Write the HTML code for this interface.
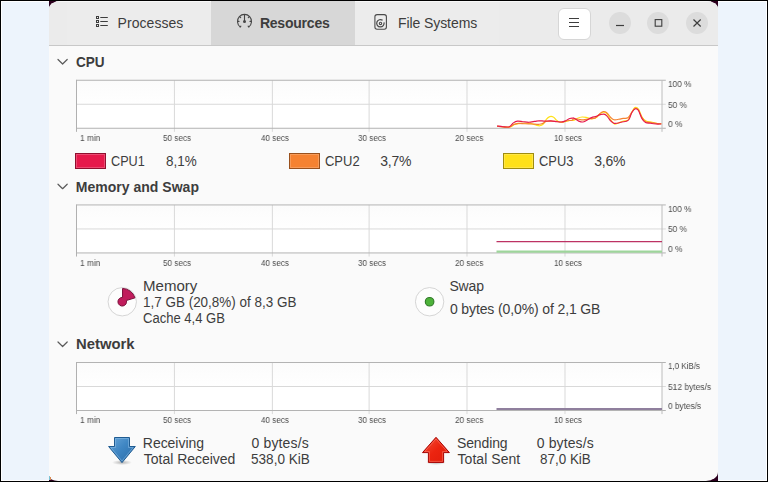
<!DOCTYPE html>
<html lang="en"><head><meta charset="utf-8"><title>System Monitor</title>
<style>
html,body{margin:0;padding:0;}
body{width:768px;height:482px;overflow:hidden;background:#edf4fc;font-family:"Liberation Sans",sans-serif;color:#3d3d3d;}
#root{position:relative;width:768px;height:482px;overflow:hidden;background:#edf4fc;}
#inner{position:absolute;left:1px;top:1px;width:764px;height:478px;border:1px solid #fff;}
#frame{position:absolute;left:0;top:0;width:766px;height:480px;border:1px solid #000;pointer-events:none;}
#corner{position:absolute;left:49px;top:1px;width:669px;height:480px;background:#2c001e;}
#win{position:absolute;left:49px;top:1px;width:669px;height:480px;background:#fafafa;border-radius:12px 12px 12px 9px / 8px 8px 9px 5px;overflow:hidden;}
#hdr{position:absolute;left:0;top:0;width:669px;height:44px;background:#ebebeb;border-bottom:1px solid #c8c8c8;box-shadow:inset 0 1px 0 #f8f8f8;}
#tabs{position:absolute;left:18px;top:1px;width:432px;height:43px;background:#ececec;}
#tabsel{position:absolute;left:162px;top:0;width:144px;height:44px;background:#d7d7d7;}
#menu{position:absolute;left:508.5px;top:7px;width:33px;height:31.5px;background:#fff;border:1px solid #d6d6d6;border-radius:6px;box-sizing:border-box;}
.wb{position:absolute;top:11px;width:22px;height:22px;border-radius:50%;background:#dcdcdc;}
.t{position:absolute;white-space:pre;line-height:1em;color:#3d3d3d;transform-origin:0 50%;}
svg{position:absolute;overflow:visible;}
svg.g{position:absolute;}
.sw{position:absolute;top:153px;width:31px;height:16px;box-sizing:border-box;}

</style></head>
<body>
<div id="root">
<div id="inner"></div>
<div id="corner"></div>
<div id="win">
  <div id="hdr">
    <div id="tabs"></div>
    <div id="tabsel"></div>
    <div id="menu"></div>
    <div class="wb" style="left:560px"></div>
    <div class="wb" style="left:598px"></div>
    <div class="wb" style="left:637px"></div>
  </div>
</div>
<div style="position:absolute;left:49px;top:476px;width:1px;height:4px;background:#7cc4d6"></div><div style="position:absolute;left:50px;top:477px;width:1px;height:3px;background:#d98a52"></div>
<!-- icons (page coordinates) -->
<svg id="icons" style="left:0;top:0" width="768" height="482" viewBox="0 0 768 482">
  <!-- processes icon -->
  <g fill="none" stroke="#3d3d3d" stroke-width="1">
    <rect x="96.5" y="16.5" width="2" height="2"/><rect x="96.5" y="20.5" width="2" height="2"/><rect x="96.5" y="24.5" width="2" height="2"/>
    <path d="M100.3 17.5H107.8M100.3 21.5H107.8M100.3 25.5H107.8"/>
  </g>
  <!-- menu hamburger -->
  <path d="M569 18.5H579M569 22.5H579M569 26.5H579" stroke="#3d3d3d" stroke-width="1.2" fill="none"/>
  <!-- window buttons -->
  <path d="M616 25.5H624" stroke="#3d3d3d" stroke-width="1.2" fill="none"/>
  <rect x="655.2" y="19.6" width="6.6" height="6.6" stroke="#3d3d3d" stroke-width="1.1" fill="none"/>
  <path d="M693.5 19.5L700.7 26.5M700.7 19.5L693.5 26.5" stroke="#3d3d3d" stroke-width="1.2" fill="none"/>
  <!-- chevrons -->
  <g fill="none" stroke="#5a5a5a" stroke-width="1.2" stroke-linecap="round" stroke-linejoin="round">
    <path d="M58 59.5L62.6 64L67.2 59.5"/>
    <path d="M58 184.2L62.6 188.7L67.2 184.2"/>
    <path d="M58 342L62.6 346.5L67.2 342"/>
  </g>
</svg>
<div class="sw" style="left:75px;background:#e6194b;border:1px solid #8f0f2e;box-shadow:inset 0 0 0 1px #ec4a72"></div>
<div class="sw" style="left:289px;background:#f58231;border:1px solid #99501c;box-shadow:inset 0 0 0 1px #f79b59"></div>
<div class="sw" style="left:503px;background:#ffe119;border:1px solid #9f8c0f;box-shadow:inset 0 0 0 1px #ffe748"></div>

<svg id="icons2" style="left:0;top:0" width="768" height="482" viewBox="0 0 768 482">
  <defs>
    <linearGradient id="gdn" x1="0" y1="0" x2="1" y2="1"><stop offset="0" stop-color="#6aa7da"/><stop offset="0.45" stop-color="#3f86c3"/><stop offset="1" stop-color="#2a6aa6"/></linearGradient>
    <linearGradient id="gup" x1="0" y1="0" x2="1" y2="1"><stop offset="0" stop-color="#f4523b"/><stop offset="0.5" stop-color="#ec2410"/><stop offset="1" stop-color="#e01b0a"/></linearGradient>
    <radialGradient id="gsh"><stop offset="0" stop-color="#000" stop-opacity="0.28"/><stop offset="1" stop-color="#000" stop-opacity="0"/></radialGradient>
  </defs>
  <!-- resources icon -->
  <g fill="none" stroke="#454545" stroke-width="1.1" stroke-linecap="round">
    <path d="M240.2,26.9A7,7 0 1 1 248.8,26.9"/>
    <path d="M244.5,21.4V14.9"/>
    <path d="M237.8,21.4H239M250,21.4H251.2M239.9,16.8L240.7,17.6M249.1,16.8L248.3,17.6M240.1,26.9L240.9,26.1M248.9,26.9L248.1,26.1"/>
  </g>
  <circle cx="244.5" cy="21.5" r="1.5" fill="#454545"/>
  <!-- file systems icon -->
  <g fill="none" stroke="#4a4a4a" stroke-width="1.1">
    <rect x="374.9" y="14.6" width="11.5" height="14.7" rx="2.2"/>
    <path d="M382.6,20.3A3.7,3.7 0 1 0 384,22.4" stroke-width="1.25"/>
    <circle cx="380.5" cy="23.4" r="1.2"/>
  </g>
  <!-- memory pie -->
  <circle cx="122.25" cy="301.75" r="14.2" fill="#fdfdfd" stroke="#d0d0d0" stroke-width="0.9"/>
  <path d="M122.55,297.45L122.55,288.45A13.3,13.3 0 0 1 134.97,297.86L126.36,300.49A4.3,4.3 0 1 1 122.55,297.45Z" fill="#c01c5c" stroke="#7a0f3a" stroke-width="1" stroke-linejoin="round"/>
  <!-- swap -->
  <circle cx="429.6" cy="301.75" r="14.2" fill="#fdfdfd" stroke="#d0d0d0" stroke-width="0.9"/>
  <circle cx="429.6" cy="301.75" r="4.3" fill="#4db23a" stroke="#2f7a26" stroke-width="1.1"/>
  <!-- down arrow -->
  <ellipse cx="122" cy="462.5" rx="10" ry="2.6" fill="url(#gsh)"/>
  <path d="M114.5,437.5H129.5V446.5H135.3L122,462.6L108.6,446.5H114.5Z" fill="url(#gdn)" stroke="#1f5b91" stroke-width="1" stroke-linejoin="round"/>
  <path d="M115.5,438.5H128.5V447.5H133.2L122,461L110.8,447.5H115.5Z" fill="none" stroke="#8bbce6" stroke-opacity="0.55" stroke-width="1" stroke-linejoin="round"/>
  <!-- up arrow -->
  <ellipse cx="436" cy="462.5" rx="10" ry="2.6" fill="url(#gsh)"/>
  <path d="M436,437.3L449.4,452.6H443.6V462.4H428.4V452.6H422.5Z" fill="url(#gup)" stroke="#a40000" stroke-width="1" stroke-linejoin="round"/>
  <path d="M436,438.9L447.2,451.6H442.6V461.4H429.4V451.6H424.7Z" fill="none" stroke="#ff8a78" stroke-opacity="0.5" stroke-width="1" stroke-linejoin="round"/>
</svg>

<svg class="g" style="left:70px;top:74px" width="600" height="66" viewBox="0 0 600 66">
<defs><linearGradient id="gb0" x1="0" y1="0" x2="0" y2="1"><stop offset="0" stop-color="#fbfbfb"/><stop offset="0.55" stop-color="#ffffff"/></linearGradient></defs>
<rect x="6.50" y="6.25" width="585.50" height="48.0" fill="url(#gb0)"/>
<line x1="104.42" y1="6.25" x2="104.42" y2="57.85" stroke="#d9d9d9" stroke-width="1"/>
<line x1="202.36" y1="6.25" x2="202.36" y2="57.85" stroke="#d9d9d9" stroke-width="1"/>
<line x1="299.10" y1="6.25" x2="299.10" y2="57.85" stroke="#d9d9d9" stroke-width="1"/>
<line x1="397.00" y1="6.25" x2="397.00" y2="57.85" stroke="#d9d9d9" stroke-width="1"/>
<line x1="495.00" y1="6.25" x2="495.00" y2="57.85" stroke="#d9d9d9" stroke-width="1"/>
<line x1="6.50" y1="30.25" x2="595.80" y2="30.25" stroke="#d9d9d9" stroke-width="1"/>
<line x1="6.50" y1="6.25" x2="595.80" y2="6.25" stroke="#b3b3b3" stroke-width="1"/>
<line x1="6.50" y1="54.25" x2="595.80" y2="54.25" stroke="#b3b3b3" stroke-width="1"/>
<line x1="592.00" y1="6.25" x2="592.00" y2="57.85" stroke="#bcbcbc" stroke-width="1"/>
<line x1="6.50" y1="5.75" x2="6.50" y2="57.85" stroke="#b0b0b0" stroke-width="1"/>
<g transform="translate(-70,-74)"><path d="M497.0,126.3C499.2,126.4 507.0,127.3 509.9,127.0C512.9,126.6 512.9,125.0 514.6,124.4C516.4,123.8 517.9,123.6 520.5,123.4C523.0,123.3 527.3,123.2 529.8,123.4C532.4,123.7 534.0,124.6 535.7,125.0C537.4,125.4 538.5,125.9 539.8,125.8C541.1,125.6 542.2,125.1 543.3,124.0C544.4,123.0 545.2,120.6 546.3,119.3C547.3,118.1 548.6,117.0 549.8,116.6C550.9,116.3 552.2,116.4 553.3,117.0C554.4,117.5 555.0,119.0 556.2,119.9C557.4,120.8 558.9,122.0 560.3,122.3C561.8,122.6 563.4,122.0 565.0,121.7C566.6,121.4 568.2,120.8 569.7,120.5C571.2,120.3 572.7,120.5 574.0,120.2C575.3,119.8 576.1,118.7 577.5,118.2C578.9,117.6 580.6,117.1 582.2,117.0C583.8,116.9 585.3,117.3 586.9,117.6C588.5,117.9 590.0,118.8 591.6,118.8C593.1,118.8 594.9,118.4 596.3,117.6C597.6,116.8 598.6,114.9 599.8,114.1C601.0,113.2 602.1,112.4 603.3,112.3C604.5,112.2 605.6,112.3 606.8,113.5C608.0,114.6 609.1,117.6 610.3,119.3C611.6,121.1 613.1,123.4 614.4,124.0C615.8,124.6 617.1,123.3 618.5,122.9C620.0,122.4 621.7,121.5 623.2,121.1C624.8,120.6 626.5,121.5 627.9,120.2C629.3,118.8 630.3,115.0 631.4,112.9C632.6,110.8 633.8,108.2 634.9,107.6C636.1,107.0 637.3,107.6 638.5,109.1C639.6,110.7 640.7,115.0 642.0,117.0C643.2,119.0 644.5,120.3 646.1,121.1C647.6,121.9 649.7,121.7 651.3,122.0C653.0,122.4 654.4,122.9 656.0,123.2C657.7,123.5 660.4,123.7 661.3,123.8" fill="none" stroke="#ffe119" stroke-width="1.15" stroke-linejoin="round"/>
<path d="M497.0,126.3C499.0,126.4 506.0,127.5 508.8,127.2C511.5,126.9 511.9,125.2 513.4,124.6C515.0,124.0 516.2,123.6 518.1,123.4C520.1,123.3 522.8,123.7 525.2,123.8C527.5,123.9 529.8,123.9 532.2,124.0C534.5,124.1 537.5,124.4 539.2,124.3C541.0,124.2 541.6,123.9 542.7,123.4C543.9,123.0 544.9,121.8 546.3,121.4C547.6,121.1 549.2,121.1 550.9,121.1C552.7,121.1 555.0,121.3 556.8,121.4C558.6,121.6 559.9,122.1 561.5,122.0C563.0,121.9 564.4,121.2 566.2,120.9C567.9,120.5 570.7,120.5 572.0,120.2C573.3,119.8 572.9,118.9 574.0,118.8C575.1,118.6 577.1,119.1 578.7,119.3C580.3,119.5 581.6,120.0 583.4,119.9C585.1,119.8 587.3,119.0 589.2,118.8C591.2,118.5 593.4,118.9 595.1,118.2C596.8,117.4 597.8,115.2 599.2,114.1C600.6,112.9 602.0,111.7 603.3,111.5C604.6,111.3 605.6,111.7 606.8,112.7C608.0,113.6 609.2,115.8 610.3,117.0C611.5,118.2 612.5,119.3 613.8,119.7C615.2,120.1 617.0,119.6 618.5,119.3C620.1,119.1 621.7,118.7 623.2,118.4C624.8,118.1 626.5,118.7 627.9,117.8C629.3,116.9 630.3,114.5 631.4,112.9C632.6,111.3 633.8,108.9 634.9,108.4C636.1,107.9 637.3,108.4 638.5,110.0C639.6,111.5 640.8,115.6 642.0,117.6C643.1,119.5 643.9,120.9 645.5,121.7C647.0,122.5 649.6,122.2 651.3,122.5C653.1,122.8 654.4,123.2 656.0,123.4C657.7,123.7 660.4,123.7 661.3,123.8" fill="none" stroke="#f58231" stroke-width="1.15" stroke-linejoin="round"/>
<path d="M497.0,126.0C498.0,126.1 500.8,126.6 502.9,126.7C504.9,126.8 507.6,127.4 509.3,126.7C511.1,126.1 512.1,123.8 513.4,122.9C514.8,121.9 516.0,121.3 517.5,121.1C519.1,120.9 521.0,121.5 522.8,121.7C524.7,121.9 526.7,122.3 528.7,122.3C530.6,122.2 532.8,121.7 534.5,121.4C536.3,121.2 537.5,120.8 539.2,120.7C541.0,120.7 543.1,121.1 545.1,121.1C547.0,121.1 549.0,120.8 550.9,120.9C552.9,121.0 555.0,121.5 556.8,121.7C558.6,121.9 560.1,122.1 561.5,122.0C562.9,121.9 563.6,121.7 565.0,121.1C566.4,120.5 568.3,119.0 569.7,118.5C571.1,118.0 572.5,118.2 573.2,118.2C573.9,118.1 573.1,117.7 574.0,118.2C574.9,118.7 577.2,120.5 578.7,121.1C580.2,121.7 581.4,122.2 582.8,122.0C584.2,121.9 585.4,120.9 586.9,120.2C588.4,119.4 590.0,118.2 591.6,117.6C593.1,117.0 594.8,116.9 596.3,116.4C597.7,115.9 599.1,115.0 600.4,114.6C601.6,114.3 602.8,113.9 603.9,114.1C605.0,114.3 605.7,114.7 606.8,115.8C607.9,116.9 609.2,119.3 610.3,120.5C611.5,121.7 612.7,122.8 613.8,123.2C615.0,123.7 616.0,123.4 617.4,123.2C618.7,123.0 620.6,122.3 622.0,122.0C623.5,121.7 625.0,121.8 626.2,121.3C627.3,120.9 628.1,120.8 629.1,119.3C630.1,117.8 630.9,114.1 632.0,112.3C633.1,110.5 634.5,109.1 635.5,108.8C636.6,108.5 637.4,108.9 638.5,110.5C639.5,112.2 640.8,116.8 642.0,118.8C643.1,120.7 644.1,121.8 645.5,122.5C646.9,123.2 648.4,123.0 650.2,123.2C651.9,123.5 654.2,123.9 656.0,124.0C657.9,124.2 660.4,124.0 661.3,124.0" fill="none" stroke="#e6194b" stroke-width="1.15" stroke-linejoin="round"/>
</g>
</svg>
<svg class="g" style="left:70px;top:199px" width="600" height="66" viewBox="0 0 600 66">
<defs><linearGradient id="gb1" x1="0" y1="0" x2="0" y2="1"><stop offset="0" stop-color="#fbfbfb"/><stop offset="0.55" stop-color="#ffffff"/></linearGradient></defs>
<rect x="6.50" y="5.95" width="585.50" height="48.0" fill="url(#gb1)"/>
<line x1="104.42" y1="5.95" x2="104.42" y2="57.55" stroke="#d9d9d9" stroke-width="1"/>
<line x1="202.36" y1="5.95" x2="202.36" y2="57.55" stroke="#d9d9d9" stroke-width="1"/>
<line x1="299.10" y1="5.95" x2="299.10" y2="57.55" stroke="#d9d9d9" stroke-width="1"/>
<line x1="397.00" y1="5.95" x2="397.00" y2="57.55" stroke="#d9d9d9" stroke-width="1"/>
<line x1="495.00" y1="5.95" x2="495.00" y2="57.55" stroke="#d9d9d9" stroke-width="1"/>
<line x1="6.50" y1="29.95" x2="595.80" y2="29.95" stroke="#d9d9d9" stroke-width="1"/>
<line x1="6.50" y1="5.95" x2="595.80" y2="5.95" stroke="#b3b3b3" stroke-width="1"/>
<line x1="6.50" y1="53.95" x2="595.80" y2="53.95" stroke="#b3b3b3" stroke-width="1"/>
<line x1="592.00" y1="5.95" x2="592.00" y2="57.55" stroke="#bcbcbc" stroke-width="1"/>
<line x1="6.50" y1="5.45" x2="6.50" y2="57.55" stroke="#b0b0b0" stroke-width="1"/>
<g transform="translate(-70,-199)"><path d="M496.5,251.65H662" stroke="#9ed59b" stroke-width="2.4" fill="none"/>
<path d="M496.5,241.6H662" stroke="#bd3263" stroke-width="1.2" fill="none"/>
</g>
</svg>
<svg class="g" style="left:70px;top:356px" width="600" height="66" viewBox="0 0 600 66">
<defs><linearGradient id="gb2" x1="0" y1="0" x2="0" y2="1"><stop offset="0" stop-color="#fbfbfb"/><stop offset="0.55" stop-color="#ffffff"/></linearGradient></defs>
<rect x="6.50" y="6.50" width="585.50" height="48.0" fill="url(#gb2)"/>
<line x1="104.42" y1="6.50" x2="104.42" y2="58.10" stroke="#d9d9d9" stroke-width="1"/>
<line x1="202.36" y1="6.50" x2="202.36" y2="58.10" stroke="#d9d9d9" stroke-width="1"/>
<line x1="299.10" y1="6.50" x2="299.10" y2="58.10" stroke="#d9d9d9" stroke-width="1"/>
<line x1="397.00" y1="6.50" x2="397.00" y2="58.10" stroke="#d9d9d9" stroke-width="1"/>
<line x1="495.00" y1="6.50" x2="495.00" y2="58.10" stroke="#d9d9d9" stroke-width="1"/>
<line x1="6.50" y1="30.50" x2="595.80" y2="30.50" stroke="#d9d9d9" stroke-width="1"/>
<line x1="6.50" y1="6.50" x2="595.80" y2="6.50" stroke="#b3b3b3" stroke-width="1"/>
<line x1="6.50" y1="54.50" x2="595.80" y2="54.50" stroke="#b3b3b3" stroke-width="1"/>
<line x1="592.00" y1="6.50" x2="592.00" y2="58.10" stroke="#bcbcbc" stroke-width="1"/>
<line x1="6.50" y1="6.00" x2="6.50" y2="58.10" stroke="#b0b0b0" stroke-width="1"/>
<g transform="translate(-70,-356)"><path d="M496.5,409.05H662" stroke="#8f7f9d" stroke-width="2.1" fill="none"/>
</g>
</svg>
<span class="t" id="t0" style="left:117.60px;top:16.00px;font-size:14.0px;letter-spacing:0.051px;">Processes</span>
<span class="t" id="t1" style="left:259.89px;top:16.00px;font-size:14.0px;font-weight:bold;letter-spacing:-0.215px;">Resources</span>
<span class="t" id="t2" style="left:397.95px;top:16.00px;font-size:14.0px;letter-spacing:-0.075px;">File Systems</span>
<span class="t" id="t3" style="left:75.84px;top:55.00px;font-size:14.0px;font-weight:bold;transform:scaleX(0.9696);">CPU</span>
<span class="t" id="t4" style="left:75.72px;top:180.00px;font-size:14.0px;font-weight:bold;letter-spacing:0.023px;">Memory and Swap</span>
<span class="t" id="t5" style="left:75.55px;top:337.00px;font-size:14.0px;font-weight:bold;transform:scaleX(1.0595);">Network</span>
<span class="t" id="t6" style="left:111.25px;top:154.00px;font-size:14.0px;transform:scaleX(0.9047);">CPU1</span>
<span class="t" id="t7" style="left:166.35px;top:154.00px;font-size:14.0px;transform:scaleX(0.9611);">8,1%</span>
<span class="t" id="t8" style="left:325.45px;top:154.00px;font-size:14.0px;transform:scaleX(0.9268);">CPU2</span>
<span class="t" id="t9" style="left:380.37px;top:154.00px;font-size:14.0px;letter-spacing:-0.281px;">3,7%</span>
<span class="t" id="t10" style="left:539.45px;top:154.00px;font-size:14.0px;transform:scaleX(0.9203);">CPU3</span>
<span class="t" id="t11" style="left:594.37px;top:154.00px;font-size:14.0px;letter-spacing:-0.281px;">3,6%</span>
<span class="t" id="t12" style="left:142.57px;top:279.00px;font-size:14.0px;transform:scaleX(1.0747);">Memory</span>
<span class="t" id="t13" style="left:143.00px;top:295.00px;font-size:14.0px;transform:scaleX(0.9616);">1,7 GB (20,8%) of 8,3 GB</span>
<span class="t" id="t14" style="left:143.45px;top:311.00px;font-size:14.0px;transform:scaleX(0.9316);">Cache 4,4 GB</span>
<span class="t" id="t15" style="left:449.39px;top:279.00px;font-size:14.0px;letter-spacing:-0.117px;">Swap</span>
<span class="t" id="t16" style="left:449.95px;top:302.00px;font-size:14.0px;letter-spacing:-0.121px;">0 bytes (0,0%) of 2,1 GB</span>
<span class="t" id="t17" style="left:142.82px;top:436.00px;font-size:14.0px;letter-spacing:-0.033px;">Receiving</span>
<span class="t" id="t18" style="left:143.78px;top:452.00px;font-size:14.0px;letter-spacing:-0.015px;">Total Received</span>
<span class="t" id="t19" style="left:251.62px;top:436.00px;font-size:14.0px;letter-spacing:0.130px;">0 bytes/s</span>
<span class="t" id="t20" style="left:250.74px;top:452.00px;font-size:14.0px;transform:scaleX(0.9691);">538,0 KiB</span>
<span class="t" id="t21" style="left:457.01px;top:436.00px;font-size:14.0px;letter-spacing:-0.135px;">Sending</span>
<span class="t" id="t22" style="left:457.53px;top:452.00px;font-size:14.0px;letter-spacing:0.046px;">Total Sent</span>
<span class="t" id="t23" style="left:536.77px;top:436.00px;font-size:14.0px;letter-spacing:0.109px;">0 bytes/s</span>
<span class="t" id="t24" style="left:540.10px;top:452.00px;font-size:14.0px;transform:scaleX(0.9596);">87,0 KiB</span>
<span class="t" id="t25" style="left:79.54px;top:133.00px;font-size:9.6px;transform:scaleX(0.8676);color:#4c4c4c;will-change:transform;">1 min</span>
<span class="t" id="t26" style="left:162.62px;top:133.00px;font-size:9.6px;transform:scaleX(0.8498);color:#4c4c4c;will-change:transform;">50 secs</span>
<span class="t" id="t27" style="left:260.82px;top:133.00px;font-size:9.6px;transform:scaleX(0.8440);color:#4c4c4c;will-change:transform;">40 secs</span>
<span class="t" id="t28" style="left:357.99px;top:133.00px;font-size:9.6px;transform:scaleX(0.8470);color:#4c4c4c;will-change:transform;">30 secs</span>
<span class="t" id="t29" style="left:455.41px;top:133.00px;font-size:9.6px;transform:scaleX(0.8591);color:#4c4c4c;will-change:transform;">20 secs</span>
<span class="t" id="t30" style="left:553.54px;top:133.00px;font-size:9.6px;transform:scaleX(0.8420);color:#4c4c4c;will-change:transform;">10 secs</span>
<span class="t" id="t31" style="left:667.54px;top:79.00px;font-size:9.6px;transform:scaleX(0.8596);color:#4c4c4c;will-change:transform;">100 %</span>
<span class="t" id="t32" style="left:668.24px;top:100.00px;font-size:9.6px;transform:scaleX(0.8706);color:#4c4c4c;will-change:transform;">50 %</span>
<span class="t" id="t33" style="left:668.02px;top:119.00px;font-size:9.6px;transform:scaleX(0.8800);color:#4c4c4c;will-change:transform;">0 %</span>
<span class="t" id="t34" style="left:79.54px;top:258.00px;font-size:9.6px;transform:scaleX(0.8676);color:#4c4c4c;will-change:transform;">1 min</span>
<span class="t" id="t35" style="left:162.62px;top:258.00px;font-size:9.6px;transform:scaleX(0.8498);color:#4c4c4c;will-change:transform;">50 secs</span>
<span class="t" id="t36" style="left:260.82px;top:258.00px;font-size:9.6px;transform:scaleX(0.8440);color:#4c4c4c;will-change:transform;">40 secs</span>
<span class="t" id="t37" style="left:357.99px;top:258.00px;font-size:9.6px;transform:scaleX(0.8470);color:#4c4c4c;will-change:transform;">30 secs</span>
<span class="t" id="t38" style="left:455.41px;top:258.00px;font-size:9.6px;transform:scaleX(0.8591);color:#4c4c4c;will-change:transform;">20 secs</span>
<span class="t" id="t39" style="left:553.54px;top:258.00px;font-size:9.6px;transform:scaleX(0.8420);color:#4c4c4c;will-change:transform;">10 secs</span>
<span class="t" id="t40" style="left:667.54px;top:204.00px;font-size:9.6px;transform:scaleX(0.8596);color:#4c4c4c;will-change:transform;">100 %</span>
<span class="t" id="t41" style="left:668.24px;top:224.00px;font-size:9.6px;transform:scaleX(0.8706);color:#4c4c4c;will-change:transform;">50 %</span>
<span class="t" id="t42" style="left:668.02px;top:244.00px;font-size:9.6px;transform:scaleX(0.8800);color:#4c4c4c;will-change:transform;">0 %</span>
<span class="t" id="t43" style="left:79.54px;top:415.00px;font-size:9.6px;transform:scaleX(0.8676);color:#4c4c4c;will-change:transform;">1 min</span>
<span class="t" id="t44" style="left:162.62px;top:415.00px;font-size:9.6px;transform:scaleX(0.8498);color:#4c4c4c;will-change:transform;">50 secs</span>
<span class="t" id="t45" style="left:260.82px;top:415.00px;font-size:9.6px;transform:scaleX(0.8440);color:#4c4c4c;will-change:transform;">40 secs</span>
<span class="t" id="t46" style="left:357.99px;top:415.00px;font-size:9.6px;transform:scaleX(0.8470);color:#4c4c4c;will-change:transform;">30 secs</span>
<span class="t" id="t47" style="left:455.41px;top:415.00px;font-size:9.6px;transform:scaleX(0.8591);color:#4c4c4c;will-change:transform;">20 secs</span>
<span class="t" id="t48" style="left:553.54px;top:415.00px;font-size:9.6px;transform:scaleX(0.8420);color:#4c4c4c;will-change:transform;">10 secs</span>
<span class="t" id="t49" style="left:667.54px;top:361.00px;font-size:9.6px;transform:scaleX(0.8321);color:#4c4c4c;will-change:transform;">1,0 KiB/s</span>
<span class="t" id="t50" style="left:668.27px;top:382.00px;font-size:9.6px;transform:scaleX(0.8789);color:#4c4c4c;will-change:transform;">512 bytes/s</span>
<span class="t" id="t51" style="left:668.00px;top:401.00px;font-size:9.6px;transform:scaleX(0.8614);color:#4c4c4c;will-change:transform;">0 bytes/s</span>
<div id="frame"></div>
</div>
</body></html>
